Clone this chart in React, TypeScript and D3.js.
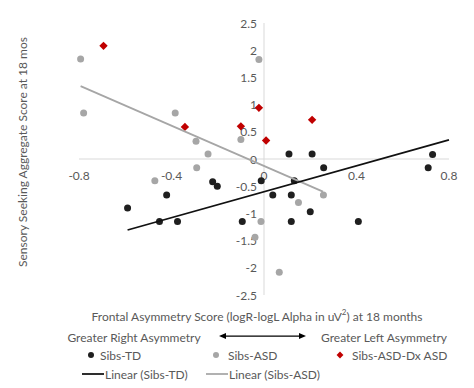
import React, { useEffect, useRef } from 'react';
import * as d3 from 'd3';

// Scatter values: [asymmetry score, sensory seeking score]
const sibsTD: [number, number][] = [
  [-0.59, -0.9], [-0.421, -0.66], [-0.452, -1.15], [-0.374, -1.15],
  [-0.222, -0.42], [-0.202, -0.5], [-0.094, -1.15], [-0.012, -0.4],
  [0.038, -0.66], [0.108, 0.09], [0.118, -0.66], [0.118, -1.15],
  [0.131, -0.4], [0.2, -0.97], [0.208, 0.09], [0.258, -0.16],
  [0.408, -1.15], [0.71, -0.16], [0.729, 0.085]
];
const sibsASD: [number, number][] = [
  [-0.793, 1.84], [-0.78, 0.845], [-0.384, 0.845], [-0.294, 0.325],
  [-0.242, 0.09], [-0.291, -0.16], [-0.472, -0.4], [-0.022, 1.83],
  [-0.1, 0.36], [0.149, -0.8], [-0.013, -1.15], [-0.039, -1.44],
  [0.066, -2.08], [0.257, -0.66]
];
const sibsDx: [number, number][] = [
  [-0.694, 2.08], [-0.342, 0.59], [-0.1, 0.6], [-0.022, 0.94],
  [0.009, 0.34], [0.208, 0.72]
];
// Trendline end points
const trendTD: [number, number][] = [[-0.59, -1.305], [0.8, 0.35]];
const trendASD: [number, number][] = [[-0.793, 1.34], [0.255, -0.6]];

const xTicks = [-0.8, -0.4, 0, 0.4, 0.8];
const yTicks = [-2.5, -2, -1.5, -1, -0.5, 0, 0.5, 1, 1.5, 2, 2.5];

const FONT = 'Lato, "Open Sans", sans-serif';
const TEXT = '#595959';

const App = () => {
  const svgRef = useRef<SVGSVGElement>(null);

  useEffect(() => {
    const svg = d3.select(svgRef.current);
    svg.selectAll('*').remove();

    const x = d3.scaleLinear().domain([-0.8, 0.8]).range([79, 449]);
    const y = d3.scaleLinear().domain([-2.5, 2.5]).range([295, 23]);

    // axis lines through zero
    svg.append('line')
      .attr('x1', x(-0.8)).attr('x2', x(0.8))
      .attr('y1', y(0)).attr('y2', y(0))
      .attr('stroke', '#d9d9d9').attr('stroke-width', 1);
    svg.append('line')
      .attr('x1', x(0)).attr('x2', x(0))
      .attr('y1', y(2.5)).attr('y2', y(-2.5))
      .attr('stroke', '#d9d9d9').attr('stroke-width', 1);

    // tick labels
    svg.append('g').selectAll('text')
      .data(xTicks).enter().append('text')
      .attr('x', d => x(d))
      .attr('y', y(0) + 16)
      .attr('text-anchor', 'middle')
      .attr('dominant-baseline', 'central')
      .attr('font-size', '12px').attr('font-family', FONT).attr('fill', TEXT)
      .text(d => String(d));
    svg.append('g').selectAll('text')
      .data(yTicks).enter().append('text')
      .attr('x', x(0) - 7)
      .attr('y', d => y(d))
      .attr('text-anchor', 'end')
      .attr('dominant-baseline', 'central')
      .attr('font-size', '12px').attr('font-family', FONT).attr('fill', TEXT)
      .text(d => String(d));

    // points
    svg.append('g').selectAll('circle')
      .data(sibsASD).enter().append('circle')
      .attr('cx', d => x(d[0])).attr('cy', d => y(d[1]))
      .attr('r', 3.5).attr('fill', '#a6a6a6');
    svg.append('g').selectAll('circle')
      .data(sibsTD).enter().append('circle')
      .attr('cx', d => x(d[0])).attr('cy', d => y(d[1]))
      .attr('r', 3.5).attr('fill', '#1f1f1f');
    const diamond = d3.symbol().type(d3.symbolDiamond2).size(45);
    svg.append('g').selectAll('path')
      .data(sibsDx).enter().append('path')
      .attr('transform', d => `translate(${x(d[0])},${y(d[1])})`)
      .attr('d', diamond())
      .attr('fill', '#c00000');

    // trendlines
    const line = d3.line<[number, number]>().x(d => x(d[0])).y(d => y(d[1]));
    svg.append('path').datum(trendASD)
      .attr('d', line).attr('fill', 'none')
      .attr('stroke', '#a6a6a6').attr('stroke-width', 1.75);
    svg.append('path').datum(trendTD)
      .attr('d', line).attr('fill', 'none')
      .attr('stroke', '#111').attr('stroke-width', 1.75);

    // axis titles
    svg.append('text')
      .attr('transform', 'translate(22,152) rotate(-90)')
      .attr('text-anchor', 'middle')
      .attr('dominant-baseline', 'central')
      .attr('font-size', '12px').attr('font-family', FONT).attr('fill', TEXT)
      .text('Sensory Seeking Aggregate Score at 18 mos');
    const xt = svg.append('text')
      .attr('x', 257).attr('y', 316)
      .attr('text-anchor', 'middle')
      .attr('dominant-baseline', 'central')
      .attr('font-size', '12px').attr('font-family', FONT).attr('fill', TEXT);
    xt.append('tspan').text('Frontal Asymmetry Score (logR-logL Alpha in uV');
    xt.append('tspan').attr('font-size', '8px').attr('dy', -4).text('2');
    xt.append('tspan').attr('dy', 4).text(') at 18 months');

    // asymmetry row
    svg.append('text')
      .attr('x', 134).attr('y', 337)
      .attr('text-anchor', 'middle').attr('dominant-baseline', 'central')
      .attr('font-size', '12px').attr('font-family', FONT).attr('fill', TEXT)
      .text('Greater Right Asymmetry');
    svg.append('text')
      .attr('x', 384).attr('y', 337)
      .attr('text-anchor', 'middle').attr('dominant-baseline', 'central')
      .attr('font-size', '12px').attr('font-family', FONT).attr('fill', TEXT)
      .text('Greater Left Asymmetry');
    svg.append('line')
      .attr('x1', 223).attr('x2', 302).attr('y1', 336).attr('y2', 336)
      .attr('stroke', '#000').attr('stroke-width', 1.25);
    svg.append('path').attr('d', 'M219,336 L226,333 L226,339 Z').attr('fill', '#000');
    svg.append('path').attr('d', 'M306,336 L299,333 L299,339 Z').attr('fill', '#000');

    // legend
    const legendDots = [
      { label: 'Sibs-TD', mx: 91, tx: 100, color: '#1f1f1f', shape: 'circle' },
      { label: 'Sibs-ASD', mx: 216, tx: 228, color: '#a6a6a6', shape: 'circle' },
      { label: 'Sibs-ASD-Dx ASD', mx: 340, tx: 352, color: '#c00000', shape: 'diamond' }
    ];
    legendDots.forEach(l => {
      if (l.shape === 'circle') {
        svg.append('circle').attr('cx', l.mx).attr('cy', 355).attr('r', 3).attr('fill', l.color);
      } else {
        svg.append('path').attr('transform', `translate(${l.mx},355)`)
          .attr('d', d3.symbol().type(d3.symbolDiamond2).size(30)()).attr('fill', l.color);
      }
      svg.append('text').attr('x', l.tx).attr('y', 355)
        .attr('dominant-baseline', 'central')
        .attr('font-size', '12px').attr('font-family', FONT).attr('fill', TEXT)
        .text(l.label);
    });
    const legendLines = [
      { label: 'Linear (Sibs-TD)', x1: 82, x2: 104, color: '#111' },
      { label: 'Linear (Sibs-ASD)', x1: 206, x2: 228, color: '#a6a6a6' }
    ];
    legendLines.forEach(l => {
      svg.append('line').attr('x1', l.x1).attr('x2', l.x2).attr('y1', 374).attr('y2', 374)
        .attr('stroke', l.color).attr('stroke-width', 1.75);
      svg.append('text').attr('x', l.x2 + 1).attr('y', 374)
        .attr('dominant-baseline', 'central')
        .attr('font-size', '12px').attr('font-family', FONT).attr('fill', TEXT)
        .text(l.label);
    });
  }, []);

  return (
    <div style={{ position: 'absolute', left: 0, top: 0, width: 474, height: 388, background: 'white' }}>
      <svg ref={svgRef} width={474} height={388} viewBox="0 0 474 388" style={{ display: 'block' }} />
    </div>
  );
};

export default App;
